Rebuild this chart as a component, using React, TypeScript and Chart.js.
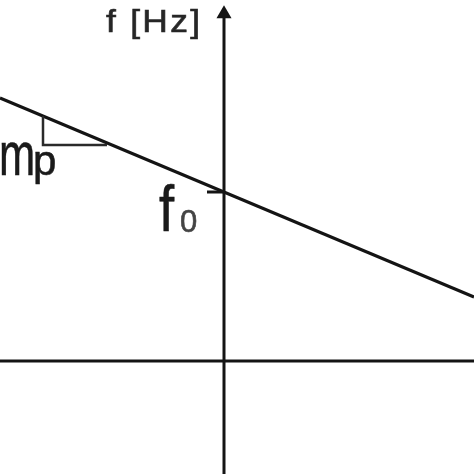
import React, { useEffect, useRef } from "react";
import { Chart, registerables } from "chart.js";

Chart.register(...registerables);

// Axis extents (data units)
const xRange = [-2.24, 2.5];
const yRange = [-1.13, 3.61];

// Main line f = f0 + m_p * x
const lineX = [-2.24, 2.5];
const lineY = [2.63, 0.64];

// Coordinate axes
const hAxisX = [-2.24, 2.5];
const hAxisY = [0, 0];
const vAxisX = [0, 0];
const vAxisY = [-1.13, 3.45];
const arrowX = [0];
const arrowY = [3.47];

// Slope triangle
const triX = [-1.81, -1.81, -1.17];
const triY = [2.45, 2.16, 2.16];

// f0 tick
const tickX = [-0.17, 0];
const tickY = [1.69, 1.69];

// Labels
const labelTexts = ["f [Hz]", "m", "p", "f", "0"];
const labelX = [-1.18, -2.25, -1.91, -0.65, -0.44];
const labelY = [3.29, 1.86, 1.86, 1.3, 1.29];

const pts = (xs: number[], ys: number[]) => xs.map((x, i) => ({ x, y: ys[i] }));

const FAMILY = '"Liberation Sans", Arial, sans-serif';

const labelPlugin = {
  id: "labels",
  afterDatasetsDraw(chart: any) {
    const ctx = chart.ctx as CanvasRenderingContext2D;
    const xs = chart.scales.x;
    const ys = chart.scales.y;
    const styles = [
      { size: 31, color: "#262626", sx: 0, sy: 1, ls: 2, fit: 94 },
      { size: 62, color: "#1a1a1a", sx: 0.7, sy: 1, ls: 0, fit: 0 },
      { size: 42, color: "#1a1a1a", sx: 1, sy: 1, ls: 0, fit: 0 },
      { size: 64, color: "#1a1a1a", sx: 0.85, sy: 1, ls: 0, fit: 0 },
      { size: 31, color: "#444", sx: 1, sy: 1, ls: 0, fit: 0 },
    ];
    labelTexts.forEach((t, i) => {
      const s = styles[i];
      const px = xs.getPixelForValue(labelX[i]);
      const py = ys.getPixelForValue(labelY[i]);
      ctx.save();
      ctx.font = `${s.size}px ${FAMILY}`;
      (ctx as any).letterSpacing = `${s.ls}px`;
      let sx = s.sx;
      if (s.fit) {
        const w = ctx.measureText(t).width - s.ls;
        sx = s.fit / w;
      }
      ctx.translate(px, py);
      ctx.scale(sx, s.sy);
      ctx.fillStyle = s.color;
      ctx.strokeStyle = s.color;
      ctx.lineWidth = 0.6;
      ctx.textBaseline = "alphabetic";
      ctx.textAlign = "left";
      ctx.fillText(t, 0, 0);
      ctx.strokeText(t, 0, 0);
      ctx.restore();
    });
  },
};

export default function App() {
  const ref = useRef<HTMLCanvasElement | null>(null);
  useEffect(() => {
    if (!ref.current) return;
    const dark = "#141414";
    const lineDs = (data: any[], width: number, color = dark) => ({
      data,
      showLine: true,
      borderColor: color,
      borderWidth: width,
      pointRadius: 0,
      fill: false,
      tension: 0,
    });
    const chart = new Chart(ref.current, {
      type: "scatter",
      data: {
        datasets: [
          lineDs(pts(hAxisX, hAxisY), 3),
          lineDs(pts(vAxisX, vAxisY), 3),
          {
            data: pts(arrowX, arrowY),
            pointStyle: "triangle",
            pointRadius: 8.7,
            pointBackgroundColor: dark,
            pointBorderColor: dark,
            pointBorderWidth: 0,
          } as any,
          lineDs(pts(triX, triY), 2.5, "#2a2a2a"),
          lineDs(pts(tickX, tickY), 3),
          lineDs(pts(lineX, lineY), 3),
        ],
      },
      options: {
        animation: false,
        responsive: true,
        maintainAspectRatio: false,
        layout: { padding: 0, autoPadding: false },
        plugins: { legend: { display: false }, tooltip: { enabled: false }, title: { display: false } },
        events: [],
        scales: {
          x: { type: "linear", min: xRange[0], max: xRange[1], display: false },
          y: { type: "linear", min: yRange[0], max: yRange[1], display: false },
        },
      },
      plugins: [labelPlugin],
    });
    return () => chart.destroy();
  }, []);
  return (
    <div style={{ position: "fixed", left: 0, top: 0, width: 474, height: 474, background: "#fff" }}>
      <canvas ref={ref} />
    </div>
  );
}
